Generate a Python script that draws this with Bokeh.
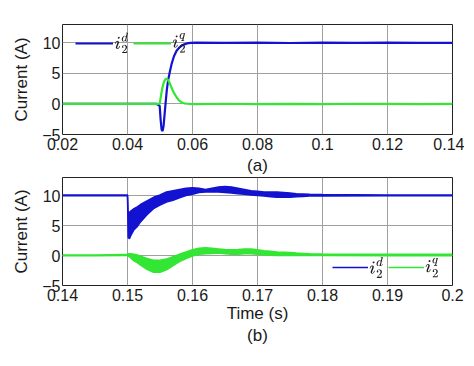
from bokeh.plotting import figure
from bokeh.layouts import column
from bokeh.models import (FixedTicker, CustomJSTickFormatter, LinearAxis, Legend,
                          LegendItem, Range1d, Label, TeX)
from bokeh.embed import file_html
from bokeh.resources import INLINE

# ---------------- data: panel (a) ----------------
t_a = [0.020, 0.030, 0.040, 0.0490, 0.0499, 0.0502, 0.0505, 0.0508, 0.0511, 0.0514,
       0.0517, 0.0521, 0.0525, 0.0530, 0.0536, 0.0543, 0.0551, 0.0559, 0.0567, 0.0575,
       0.0583, 0.0594, 0.0610, 0.0700, 0.0800, 0.0900, 0.1000, 0.1100, 0.1200, 0.1300, 0.1400]
id_a = [0.0, 0.0, 0.0, 0.0, -0.3, -2.6, -4.2, -4.45, -3.6, -1.8,
        0.0, 2.3, 3.9, 5.2, 6.6, 7.8, 8.7, 9.2, 9.55, 9.75,
        9.9, 10.0, 10.05, 9.98, 10.02, 9.97, 10.03, 10.0, 10.04, 9.98, 10.0]
iq_a = [0.0, 0.0, 0.0, 0.0, 0.05, 1.0, 2.0, 2.8, 3.4, 3.8,
        4.05, 4.1, 3.9, 3.4, 2.6, 1.8, 1.1, 0.55, 0.25, 0.1,
        0.03, 0.0, -0.02, 0.03, -0.03, 0.02, -0.02, 0.03, 0.0, -0.02, 0.0]
xticks_a = [0.02, 0.04, 0.06, 0.08, 0.10, 0.12, 0.14]

# ---------------- data: panel (b) (ripple envelopes) ----------------
t_b = [0.140, 0.145, 0.1499, 0.1500, 0.1501, 0.1503, 0.1505, 0.1510, 0.1515, 0.1520,
       0.153, 0.154, 0.155, 0.156, 0.157, 0.158, 0.159, 0.160, 0.161, 0.162,
       0.163, 0.164, 0.165, 0.166, 0.167, 0.168, 0.169, 0.170, 0.171, 0.172,
       0.173, 0.174, 0.175, 0.176, 0.177, 0.178, 0.180, 0.190, 0.200]
id_b_hi = [10.1, 10.1, 10.1, 10.1, 7.0, 7.2, 7.4, 7.8, 8.1, 8.5,
           9.1, 9.7, 10.1, 10.6, 10.8, 11.0, 11.2, 11.3, 11.2, 11.0,
           11.2, 11.4, 11.5, 11.4, 11.2, 11.0, 10.8, 10.7, 10.6, 10.6,
           10.6, 10.5, 10.4, 10.3, 10.25, 10.2, 10.15, 10.1, 10.1]
id_b_lo = [9.95, 9.95, 9.95, 9.95, 3.0, 2.8, 3.3, 4.3, 4.8, 5.6,
           6.8, 7.8, 8.4, 8.9, 9.2, 9.6, 10.0, 10.2, 10.5, 10.6,
           10.6, 10.6, 10.5, 10.4, 10.3, 10.2, 10.1, 10.0, 9.9, 9.8,
           9.7, 9.7, 9.7, 9.8, 9.85, 9.9, 9.9, 9.95, 9.95]
iq_b_hi = [0.1, 0.1, 0.15, 0.2, 0.3, 0.3, 0.3, 0.2, 0.1, -0.1,
           -0.5, -0.8, -0.8, -0.6, -0.2, 0.2, 0.6, 0.95, 1.2, 1.3,
           1.2, 1.1, 1.0, 0.95, 1.0, 1.1, 1.1, 0.95, 0.8, 0.7,
           0.6, 0.55, 0.5, 0.4, 0.35, 0.3, 0.25, 0.2, 0.2]
iq_b_lo = [-0.05, -0.05, 0.0, 0.0, -0.1, -0.2, -0.4, -0.9, -1.2, -1.6,
           -2.3, -2.8, -2.8, -2.4, -1.7, -1.0, -0.5, -0.1, 0.2, 0.3,
           0.35, 0.4, 0.3, 0.2, 0.2, 0.3, 0.3, 0.2, 0.1, 0.05,
           0.0, 0.0, 0.0, 0.0, 0.0, 0.0, 0.0, -0.05, -0.05]
xticks_b = [0.14, 0.15, 0.16, 0.17, 0.18, 0.19, 0.20]

yticks = [-5, 0, 5, 10]
legend_tex = ["i_2^d", "i_2^q"]
# legend label anchor points (data units) for each panel
legend_a_x = [0.0360, 0.0538]
legend_a_y = 10.0
legend_b_x = [0.1872, 0.1958]
legend_b_y = -2.0

BLUE = "#1212D0"
GREEN = "#33E633"
FONT = "Liberation Sans"
TXT = "#1a1a1a"


def make_fig(xr, xticks, top, bottom, frame_h):
    p = figure(frame_width=390, frame_height=frame_h,
               x_range=Range1d(*xr), y_range=Range1d(-5, 13),
               output_backend="svg", toolbar_location=None,
               min_border_left=62, min_border_right=12,
               min_border_top=top, min_border_bottom=bottom)
    p.outline_line_color = "#222222"
    p.outline_line_width = 1
    p.xaxis.ticker = FixedTicker(ticks=xticks)
    p.yaxis.ticker = FixedTicker(ticks=yticks)
    p.xaxis.formatter = CustomJSTickFormatter(code="return Number(tick.toFixed(2)).toString();")
    p.xgrid.ticker = FixedTicker(ticks=xticks)
    p.ygrid.ticker = FixedTicker(ticks=yticks)
    for g in (p.xgrid, p.ygrid):
        g.grid_line_color = "#a0a0a0"
        g.grid_line_width = 1
    for ax in (p.xaxis, p.yaxis):
        ax.axis_line_color = None
        ax.major_tick_in = 0
        ax.major_tick_out = 0
        ax.minor_tick_line_color = None
        ax.major_label_text_font = FONT
        ax.major_label_text_font_size = "16px"
        ax.major_label_text_color = TXT
        ax.axis_label_text_font = FONT
        ax.axis_label_text_font_size = "17px"
        ax.axis_label_text_font_style = "normal"
        ax.axis_label_text_color = TXT
    p.xaxis.major_label_standoff = 3
    p.yaxis.major_label_standoff = 2
    p.yaxis.axis_label = "Current (A)"
    p.yaxis.axis_label_standoff = 8
    p.xaxis.axis_label_standoff = 0
    return p


def add_legend(p, rends, loc, glyph_w, xs, y):
    leg = Legend(items=[LegendItem(label=" ", renderers=[r]) for r in rends],
                 orientation="horizontal", location=loc,
                 background_fill_alpha=0, border_line_alpha=0,
                 glyph_width=glyph_w, glyph_height=20, label_standoff=1, spacing=7,
                 padding=0, margin=0, label_width=12, label_text_font_size="14px")
    p.add_layout(leg)
    for tx, x in zip(legend_tex, xs):
        p.add_layout(Label(x=x, y=y, text=TeX(text=tx), text_font_size="14px",
                           text_color=TXT, text_align="left", text_baseline="middle"))


# ---------------- panel (a) ----------------
pa = make_fig((0.02, 0.14), xticks_a, 24, 40, 110)
pa.xaxis.axis_label = "(a)"
pa.xaxis.axis_label_standoff = 3
ra_d = pa.line(t_a, id_a, line_color=BLUE, line_width=2.2)
ra_q = pa.line(t_a, iq_a, line_color=GREEN, line_width=2.2)
add_legend(pa, [ra_d, ra_q], (13, 81), 38, legend_a_x, legend_a_y)

# ---------------- panel (b) ----------------
pb = make_fig((0.14, 0.2), xticks_b, 0, 58, 108)
pb.xaxis.axis_label = "Time (s)"
extra = LinearAxis(ticker=FixedTicker(ticks=[]), axis_label="(b)",
                   axis_line_color=None, major_tick_line_color=None,
                   minor_tick_line_color=None, axis_label_standoff=0,
                   axis_label_text_font=FONT, axis_label_text_font_size="17px",
                   axis_label_text_font_style="normal", axis_label_text_color=TXT)
pb.add_layout(extra, "below")

pb.varea(x=t_b, y1=id_b_lo, y2=id_b_hi, fill_color=BLUE)
rb_d = pb.line(t_b, id_b_hi, line_color=BLUE, line_width=1.5)
pb.line(t_b, id_b_lo, line_color=BLUE, line_width=1.5)
pb.varea(x=t_b, y1=iq_b_lo, y2=iq_b_hi, fill_color=GREEN)
rb_q = pb.line(t_b, iq_b_hi, line_color=GREEN, line_width=1.5)
pb.line(t_b, iq_b_lo, line_color=GREEN, line_width=1.5)
add_legend(pb, [rb_d, rb_q], (270, 8), 36, legend_b_x, legend_b_y)

layout = column(pa, pb, spacing=0)
open("out.html", "w").write(file_html(layout, INLINE))
